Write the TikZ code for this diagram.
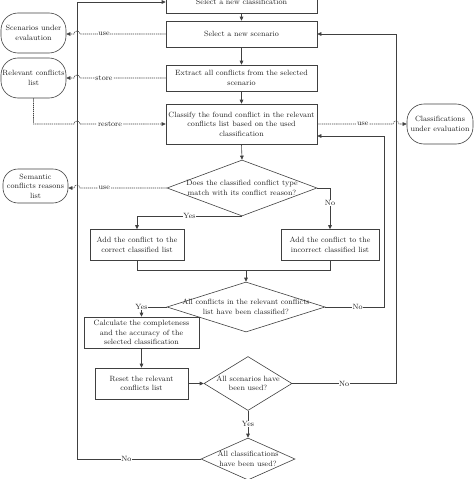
\documentclass[tikz,border=0pt]{standalone}
\usetikzlibrary{arrows.meta,shapes.geometric,calc}
\definecolor{ln}{HTML}{404040}
\definecolor{tx}{HTML}{222222}
\begin{document}
\begin{tikzpicture}[x=1pt,y=1pt,
  font=\fontsize{7.6}{9.6}\selectfont,
  every node/.style={text=tx},
  box/.style={draw=ln,line width=0.6pt,rectangle,align=center,inner sep=1pt},
  store/.style={draw=ln,line width=0.6pt,rectangle,rounded corners=17pt,align=center,inner sep=1pt,minimum width=65pt,minimum height=40pt},
  dia/.style={draw=ln,line width=0.6pt,diamond,inner sep=0pt},
  flow/.style={draw=ln,line width=0.6pt,-{Triangle[length=4pt,width=3.6pt]}},
  plain/.style={draw=ln,line width=0.6pt},
  dflow/.style={draw=ln,line width=0.55pt,dash pattern=on 1.3pt off 0.8pt,-{Triangle[length=4pt,width=3.6pt]}},
  lbl/.style={fill=white,inner sep=0.6pt,text=tx}
]
\useasboundingbox (0,0) rectangle (474,-479);
% main column
\node[box,minimum width=151pt,minimum height=22pt] (cls) at (241.5,-2) {Select a new classification};
\node[box,minimum width=151pt,minimum height=26pt] (scn) at (241.5,-34) {Select a new scenario};
\node[box,minimum width=151pt,minimum height=26pt] (ext) at (241.5,-78) {Extract all conflicts from the selected\\scenario};
\node[box,minimum width=151pt,minimum height=40pt] (clf) at (241.5,-124) {Classify the found conflict in the relevant\\conflicts list based on the used\\classification};
\node[dia,minimum width=150pt,minimum height=56pt] (d1) at (242,-188) {};
\node[align=center] (d1t) at (d1) {Does the classified conflict type\\match with its conflict reason?};
\node[box,minimum width=94pt,minimum height=31pt] (cor) at (137,-245) {Add the conflict to the\\correct classified list};
\node[box,minimum width=98pt,minimum height=31pt] (inc) at (330,-245) {Add the conflict to the\\incorrect classified list};
\node[dia,minimum width=158pt,minimum height=50pt] (d2) at (246,-307) {};
\node[align=center] (d2t) at (d2) {All conflicts in the relevant conflicts\\list have been classified?};
\node[box,minimum width=115pt,minimum height=31pt] (calc) at (141.5,-332.5) {Calculate the completeness\\and the accuracy of the\\selected classification};
\node[box,minimum width=93pt,minimum height=31pt] (rst) at (141.5,-383.5) {Reset the relevant\\conflicts list};
\node[dia,minimum width=88pt,minimum height=54pt] (d3) at (248,-383.5) {};
\node[align=center] (d3t) at (d3) {All scenarios have\\been used?};
\node[dia,minimum width=94pt,minimum height=42pt] (d4) at (248,-459) {};
\node[align=center] (d4t) at (d4) {All classifications\\have been used?};
% stores
\node[store] (scen) at (33.5,-33) {Scenarios under\\evalaution};
\node[store] (rel) at (33.5,-78) {Relevant conflicts\\list};
\node[store,minimum height=34pt,rounded corners=15pt] (sem) at (35.5,-186) {Semantic\\conflicts reasons\\list};
\node[store,minimum width=66pt] (clsev) at (440,-124) {Classifications\\under evaluation};
% helper coordinates
\coordinate (xl) at (77,0);
\coordinate (xr1) at (384,0);
\coordinate (xr2) at (396,0);
\coordinate (mrg) at ($(d2.north)+(0,11)$);
% solid flow
\draw[flow] (cls.south) -- (scn.north);
\draw[flow] (scn.south) -- (ext.north);
\draw[flow] (ext.south) -- (clf.north);
\draw[flow] (clf.south) -- (d1.north);
\draw[flow] (d1.south) -| node[lbl,pos=0.25]{Yes} (cor.north);
\draw[flow] (d1.east) -| node[lbl,pos=0.68]{No} (inc.north);
\draw[plain] (cor.south) |- (mrg);
\draw[plain] (inc.south) |- (mrg);
\draw[flow] (mrg) -- (d2.north);
\draw[flow] (d2.west) -| node[lbl,pos=0.5]{Yes} (calc.north);
\draw[flow] (d2.east) -- node[lbl,pos=0.55]{No} (d2.east -| xr1) |- ($(clf.east)+(0,-12)$);
\draw[flow] (calc.south) -- (rst.north);
\draw[flow] (rst.east) -- (d3.west);
\draw[flow] (d3.east) -- node[lbl,pos=0.5]{No} (d3.east -| xr2) |- (scn.east);
\draw[flow] (d3.south) -- node[lbl,pos=0.5]{Yes} (d4.north);
\draw[flow] (d4.west) -- node[lbl,pos=0.6]{No} (d4.west -| xl) |- (cls.west);
% dashed data flows with hops over the vertical lines
\draw[dflow] (scn.west) -- node[lbl,pos=0.72]{use} ($(xl |- scn.west)+(3,0)$) arc[start angle=0,end angle=180,radius=3pt] -- (scen.east |- scn.west);
\draw[dflow] (ext.west) -- node[lbl,pos=0.72]{store} ($(xl |- ext.west)+(3,0)$) arc[start angle=0,end angle=180,radius=3pt] -- (rel.east |- ext.west);
\draw[dflow] (rel.south) |- ($(xl |- clf.west)+(-3,0)$) arc[start angle=180,end angle=0,radius=3pt] -- node[lbl,pos=0.35]{restore} (clf.west);
\draw[dflow] (d1.west) -- node[lbl,pos=0.72]{use} ($(xl |- d1.west)+(3,0)$) arc[start angle=0,end angle=180,radius=3pt] -- (sem.east |- d1.west);
\draw[dflow] (clf.east) -- node[lbl,pos=0.6]{use} ($(xr2 |- clf.east)+(-3,0)$) arc[start angle=180,end angle=0,radius=3pt] -- (clsev.west);
\end{tikzpicture}
\end{document}
